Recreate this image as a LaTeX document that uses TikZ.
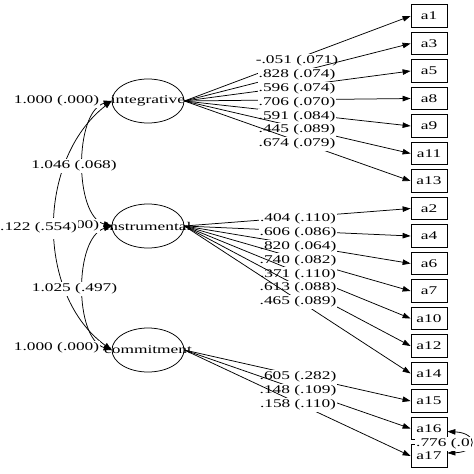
\documentclass[tikz,border=0pt]{standalone}
\usepackage{fontspec}
\setmainfont{Liberation Serif}
\usepackage{graphicx}
\usetikzlibrary{shapes.geometric,arrows.meta}
\newcommand\sx[1]{\scalebox{1.47}[1]{#1}}
\begin{document}
\begin{tikzpicture}[x=1pt,y=-1pt,
  font=\fontsize{11.8}{13}\selectfont,
  lat/.style={draw, ellipse, minimum width=72pt, minimum height=44pt, inner sep=0pt, line width=0.75pt},
  obs/.style={draw, rectangle, minimum width=36pt, minimum height=22.5pt, inner sep=0pt, line width=0.75pt},
  txt/.style={inner sep=0pt},
  edge/.style={line width=0.75pt, -{Triangle[length=8pt,width=5.5pt]}},
  cov/.style={line width=0.75pt, {Triangle[length=8pt,width=5.5pt]}-{Triangle[length=8pt,width=5.5pt]}},
  lab/.style={fill=white, inner xsep=1pt, inner ysep=0pt, minimum height=14pt},
]
\useasboundingbox (0,0) rectangle (474,474);
\clip (0,0) rectangle (474,474);
\fill[white] (0,0) rectangle (474,474);

% latent variables
\node[lat] (int) at (148,101) {};
\node[lat] (ins) at (148,226) {};
\node[lat] (com) at (148,350) {};
\node[txt] (intT) at (int.center) {\sx{integrative}};
\node[txt] (insT) at (ins.center) {\sx{instrumental}};
\node[txt] (comT) at (com.center) {\sx{commitment}};

% observed variables
\foreach \n [count=\i from 0] in {1,3,5,8,9,11,13,2,4,6,7,10,12,14,15,16,17}
  \node[obs] (a\n) at (429, 16+27.5*\i) {\sx{a\n}};

% loadings
\foreach \t/\l [count=\i from 0] in {1/{-.051 (.071)},3/{.828 (.074)},5/{.596 (.074)},8/{.706 (.070)},9/{.591 (.084)},11/{.445 (.089)},13/{.674 (.079)}}{
  \draw[edge] (int.east) -- (a\t.west);
  \node[lab] (li\t) at (297, 61+13.8*\i) {\sx{\l}};
}
\foreach \t/\l [count=\i from 0] in {2/{.404 (.110)},4/{.606 (.086)},6/{.820 (.064)},7/{.740 (.082)},10/{.371 (.110)},12/{.613 (.088)},14/{.465 (.089)}}{
  \draw[edge] (ins.east) -- (a\t.west);
  \node[lab] (ls\t) at (298, 219+13.8*\i) {\sx{\l}};
}
\foreach \t/\l [count=\i from 0] in {15/{.605 (.282)},16/{.148 (.109)},17/{.158 (.110)}}{
  \draw[edge] (com.east) -- (a\t.west);
  \node[lab] (lc\t) at (298, 377+13.8*\i) {\sx{\l}};
}

% factor covariances
\draw[cov] (int.west) .. controls (74,112) and (74,216) .. (ins.west);
\draw[cov] (int.west) .. controls (36,160) and (36,295) .. (com.west);
\draw[cov] (ins.west) .. controls (74,238) and (74,338) .. (com.west);

\node[lab] (v1) at (56.5,101) {\sx{1.000 (.000)}};
\node[lab] (v2) at (56.5,226) {\sx{1.000 (.000)}};
\node[lab] (v3) at (56.5,348) {\sx{1.000 (.000)}};
\node[lab] (c1) at (74,166) {\sx{1.046 (.068)}};
\node[lab, minimum height=21pt] (c2) at (38.5,228) {\sx{.122 (.554)}};
\node[lab] (c3) at (74.5,289) {\sx{1.025 (.497)}};

% residual covariance a16 - a17
\coordinate (p16) at ([yshift=-3pt]a16.east);
\coordinate (p17) at ([yshift=3pt]a17.east);
\draw[cov] (p16) .. controls (478,433) and (478,452) .. (p17);
\node[lab, anchor=west] (l776) at (415,444) {\sx{.776 (.0}};
\end{tikzpicture}
\end{document}
